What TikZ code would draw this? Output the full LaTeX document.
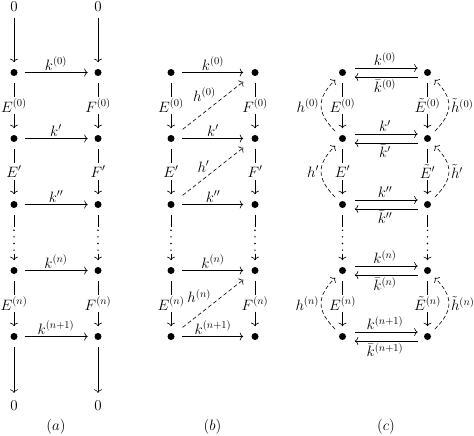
\RequirePackage{fix-cm}
\documentclass[tikz,border=0pt]{standalone}
\usetikzlibrary{arrows.meta}
\tikzset{
  dotnode/.style={circle, fill=black, inner sep=0pt, minimum size=7pt},
  vlab/.style={inner sep=1pt, minimum height=16pt},
  gapnode/.style={inner sep=0pt, minimum height=26pt, minimum width=2pt},
  zeronode/.style={inner sep=1pt},
  vseg/.style={shorten <=6.5pt},
  varr/.style={->, shorten >=6.5pt},
  harr/.style={->, shorten <=8.5pt, shorten >=6pt},
  harrback/.style={->, shorten <=6pt, shorten >=8.5pt},
  dotline/.style={line cap=round, line width=1.6pt, dash pattern=on 0pt off 6.6pt},
  dashpat/.style={dash pattern=on 4pt off 2.5pt},
  diagarr/.style={->, dashpat, shorten <=11pt, shorten >=11pt},
  loopL/.style={->, dashpat, out=135, in=-135, looseness=1.4, shorten <=6.5pt, shorten >=6.5pt},
  loopR/.style={->, dashpat, out=45, in=-45, looseness=1.4, shorten <=6.5pt, shorten >=6.5pt},
  hlab/.style={inner sep=2pt},
}
\newcommand\vconn[3]{%
  \path (#1) -- node[vlab] (#1#2) {#3} (#2);
  \draw[vseg] (#1) -- (#1#2);
  \draw[varr] (#1#2) -- (#2);
}
\newcommand\vdotconn[2]{%
  \path (#1) -- node[gapnode, pos=0.553] (#1#2) {} (#2);
  \draw[vseg] (#1) -- (#1#2.north);
  \draw[dotline] ([yshift=-3pt]#1#2.north) -- ([yshift=3pt]#1#2.south);
  \draw[varr] (#1#2.south) -- (#2);
}
\begin{document}
\begin{tikzpicture}[x=1pt, y=-1pt, line width=0.6pt,
  font=\fontsize{15}{18}\selectfont,
  >={To[length=3.5pt,width=8pt]}]
\useasboundingbox (0,0) rectangle (474,436);

% ---------- dots ----------
\foreach \p/\xl/\xr in {a/14/98, b/171/255, c/342.5/427.5}{
  \foreach \r/\y in {1/72.5, 2/138.5, 3/204.5, 4/270.5, 5/336.5}{
    \node[dotnode] (\p\r L) at (\xl,\y) {};
    \node[dotnode] (\p\r R) at (\xr,\y) {};
  }
}

% ================= panel (a) =================
\node[zeronode] (a0L) at (14,6.5) {$0$};
\node[zeronode] (a0R) at (98,6.5) {$0$};
\node[zeronode] (a6L) at (14,406) {$0$};
\node[zeronode] (a6R) at (98,406) {$0$};
\draw[->, shorten <=5pt, shorten >=6.5pt] (a0L) -- (a1L);
\draw[->, shorten <=5pt, shorten >=6.5pt] (a0R) -- (a1R);
\draw[->, shorten <=6.5pt, shorten >=7pt] (a5L) -- (a6L);
\draw[->, shorten <=6.5pt, shorten >=7pt] (a5R) -- (a6R);

\draw[->, shorten <=7.5pt, shorten >=6.5pt] (a1L) -- node[above, hlab] (ka1) {$k^{(0)}$} (a1R);
\draw[->, shorten <=7.5pt, shorten >=6.5pt] (a2L) -- node[above, hlab] (ka2) {$k'$} (a2R);
\draw[->, shorten <=7.5pt, shorten >=6.5pt] (a3L) -- node[above, hlab] (ka3) {$k''$} (a3R);
\draw[->, shorten <=7.5pt, shorten >=6.5pt] (a4L) -- node[above, hlab] (ka4) {$k^{(n)}$} (a4R);
\draw[->, shorten <=7.5pt, shorten >=6.5pt] (a5L) -- node[above, hlab] (ka5) {$k^{(n+1)}$} (a5R);

\vconn{a1L}{a2L}{$E^{(0)}$}
\vconn{a2L}{a3L}{$E'$}
\vdotconn{a3L}{a4L}
\vconn{a4L}{a5L}{$E^{(n)}$}
\vconn{a1R}{a2R}{$F^{(0)}$}
\vconn{a2R}{a3R}{$F'$}
\vdotconn{a3R}{a4R}
\vconn{a4R}{a5R}{$F^{(n)}$}

\node (capa) at (56,427) {$(a)$};

% ================= panel (b) =================
\draw[->, shorten <=7.5pt, shorten >=8pt] (b1L) -- node[above, hlab] (kb1) {$k^{(0)}$} (b1R);
\draw[->, shorten <=7.5pt, shorten >=8pt] (b2L) -- node[above, hlab] (kb2) {$k'$} (b2R);
\draw[->, shorten <=7.5pt, shorten >=8pt] (b3L) -- node[above, hlab] (kb3) {$k''$} (b3R);
\draw[->, shorten <=7.5pt, shorten >=8pt] (b4L) -- node[above, hlab] (kb4) {$k^{(n)}$} (b4R);
\draw[->, shorten <=7.5pt, shorten >=8pt] (b5L) -- node[above, hlab] (kb5) {$k^{(n+1)}$} (b5R);

\vconn{b1L}{b2L}{$E^{(0)}$}
\vconn{b2L}{b3L}{$E'$}
\vdotconn{b3L}{b4L}
\vconn{b4L}{b5L}{$E^{(n)}$}
\vconn{b1R}{b2R}{$F^{(0)}$}
\vconn{b2R}{b3R}{$F'$}
\vdotconn{b3R}{b4R}
\vconn{b4R}{b5R}{$F^{(n)}$}

\draw[diagarr] (b2L) -- node[pos=0.55, above left, inner sep=1pt] (hb1) {$h^{(0)}$} (b1R);
\draw[diagarr] (b3L) -- node[pos=0.47, above left, inner sep=1pt] (hb2) {$h'$} (b2R);
\draw[diagarr] (b5L) -- node[pos=0.49, above left, inner sep=1pt] (hb4) {$h^{(n)}$} (b4R);

\node (capb) at (212.5,427) {$(b)$};

% ================= panel (c) =================
\foreach \r/\k/\kb in {1/{k^{(0)}}/{\bar{k}^{(0)}}, 2/{k'}/{\bar{k}'}, 3/{k''}/{\bar{k}''}, 4/{k^{(n)}}/{\bar{k}^{(n)}}, 5/{k^{(n+1)}}/{\bar{k}^{(n+1)}}}{
  \draw[harr] ([yshift=4.5pt]c\r L.east) -- node[above, hlab] (kc\r) {$\k$} ([yshift=4.5pt]c\r R.west);
  \draw[harrback] ([yshift=-4.5pt]c\r R.west) -- node[below, hlab] (kbc\r) {$\kb$} ([yshift=-4.5pt]c\r L.east);
}

\vconn{c1L}{c2L}{$E^{(0)}$}
\vconn{c2L}{c3L}{$E'$}
\vdotconn{c3L}{c4L}
\vconn{c4L}{c5L}{$E^{(n)}$}
\vconn{c1R}{c2R}{$\tilde{E}^{(0)}$}
\vconn{c2R}{c3R}{$\tilde{E}'$}
\vdotconn{c3R}{c4R}
\vconn{c4R}{c5R}{$\tilde{E}^{(n)}$}

\draw[loopL] (c2L) to node[midway, left, inner sep=3pt] (hc1) {$h^{(0)}$} (c1L);
\draw[loopL] (c3L) to node[midway, left, inner sep=3pt] (hc2) {$h'$} (c2L);
\draw[loopL] (c5L) to node[midway, left, inner sep=3pt] (hc4) {$h^{(n)}$} (c4L);
\draw[loopR] (c2R) to node[midway, right, inner sep=3pt] (htc1) {$\tilde{h}^{(0)}$} (c1R);
\draw[loopR] (c3R) to node[midway, right, inner sep=3pt] (htc2) {$\tilde{h}'$} (c2R);
\draw[loopR] (c5R) to node[midway, right, inner sep=3pt] (htc4) {$\tilde{h}^{(n)}$} (c4R);

\node (capc) at (386,427) {$(c)$};
\end{tikzpicture}
\end{document}
